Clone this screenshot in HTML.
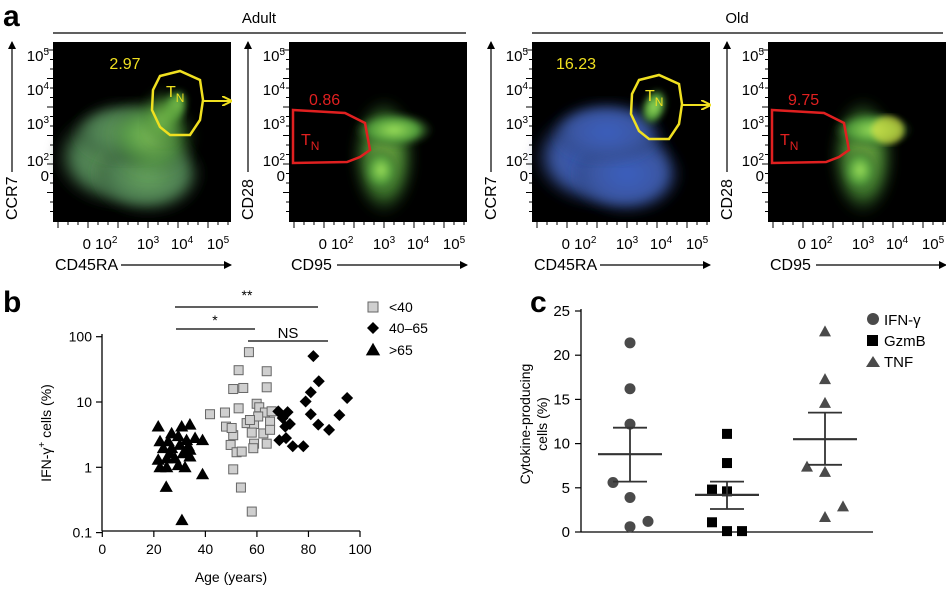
<!DOCTYPE html>
<html><head><meta charset="utf-8">
<style>
body{margin:0;background:#fff;width:946px;height:588px;overflow:hidden;font-family:"Liberation Sans",sans-serif;}
svg text{font-family:"Liberation Sans","DejaVu Sans",sans-serif;}
</style></head>
<body>
<svg id="fig" width="946" height="588" viewBox="0 0 946 588" xmlns="http://www.w3.org/2000/svg">
<defs>
<filter id="blur6"><feGaussianBlur stdDeviation="6"/></filter>
<filter id="blur3"><feGaussianBlur stdDeviation="3"/></filter>
<radialGradient id="gGreen"><stop offset="0" stop-color="#9be05a"/><stop offset="0.6" stop-color="#4f9a3a"/><stop offset="1" stop-color="#1d3a1a" stop-opacity="0"/></radialGradient>
<radialGradient id="gBlue"><stop offset="0" stop-color="#3a5fc0"/><stop offset="0.7" stop-color="#3a56a0"/><stop offset="1" stop-color="#1a2850" stop-opacity="0"/></radialGradient>
<radialGradient id="gGB"><stop offset="0" stop-color="#6aa860"/><stop offset="0.7" stop-color="#4a7a50"/><stop offset="1" stop-color="#1a2a1a" stop-opacity="0"/></radialGradient>
<marker id="arr" markerWidth="8" markerHeight="8" refX="7" refY="4" orient="auto" markerUnits="userSpaceOnUse"><path d="M0,0 L8,4 L0,8 z" fill="#000"/></marker>
<marker id="arrY" markerWidth="10" markerHeight="10" refX="8" refY="5" orient="auto" markerUnits="userSpaceOnUse"><path d="M0,0 L10,5 L0,10" fill="none" stroke="#f0e020" stroke-width="2"/></marker>
</defs>

<text x="3" y="26" font-size="30" font-weight="bold">a</text>
<text x="259" y="23" font-size="15" text-anchor="middle">Adult</text>
<line x1="53" y1="33" x2="466" y2="33" stroke="#000" stroke-width="1.2"/>
<text x="737" y="23" font-size="15" text-anchor="middle">Old</text>
<line x1="532" y1="33" x2="943" y2="33" stroke="#000" stroke-width="1.2"/>
<g id="flow"></g>

<text x="3" y="312" font-size="30" font-weight="bold">b</text>
<g id="pb"></g>
<text x="530" y="312" font-size="30" font-weight="bold">c</text>
<g id="pc"></g>
</svg>
<script>
// ---------- Panel b data ----------
const bTriAge=[21.7,26.9,30.8,34.0,36.0,38.9,22.4,25.6,29.5,32.7,23.7,26.9,30.1,33.4,21.7,25.0,28.2,34.0,22.4,25.0,29.5,32.1,38.9,24.8,30.9,26.3,31.4,34.0];
const bTriVal=[4.2,3.3,4.2,4.5,2.8,2.6,2.5,2.5,3.0,2.6,1.96,1.96,2.2,2.1,1.3,1.37,1.37,1.46,1.0,1.0,1.08,1.0,0.78,0.50,0.155,1.64,1.64,1.85];
const bSqAge=[56.9,52.9,63.8,50.8,54.7,63.8,41.8,47.6,52.9,59.9,60.9,63.1,65.7,48.0,50.8,50.2,56.0,58.9,58.0,62.5,65.1,65.1,49.8,52.1,54.1,58.9,58.6,63.8,50.8,53.8,58.0,60.5,57.3];
const bSqVal=[58,30.7,29.6,15.8,16.4,16.8,6.5,6.9,8.0,9.4,8.3,6.9,7.2,4.2,3.1,4.0,4.75,4.6,3.4,3.3,5.0,3.75,2.2,1.7,1.74,2.3,1.96,2.3,0.93,0.49,0.21,6.0,5.3];
const bDiaAge=[81.9,84.0,80.9,78.9,80.9,83.8,88.0,92.0,95.0,68.3,71.9,70.0,72.8,71.0,68.7,71.3,73.9,78.0];
const bDiaVal=[50.4,20.8,14.1,10.2,6.5,4.5,3.75,6.3,11.5,7.2,7.0,5.7,4.6,4.2,2.6,2.8,2.1,2.1];
const bXTicks=[0,20,40,60,80,100];
const bYTicks=[0.1,1,10,100];
const bYLabels=["0.1","1","10","100"];
// ---------- Panel c data ----------
const cGroups=["IFN-γ","GzmB","TNF"];
const cIFN=[21.4,16.2,12.2,5.6,3.9,0.6,1.2];
const cGzmB=[11.1,7.8,4.8,4.6,1.1,0.1,0.1];
const cTNF=[22.7,17.3,14.6,7.4,6.8,1.7,2.9];
const cMean=[8.8,4.2,10.5];
const cSemLo=[5.7,2.6,7.6];
const cSemHi=[11.8,5.7,13.5];
const cYTicks=[0,5,10,15,20,25];

const NS='http://www.w3.org/2000/svg';
function mk(parent,tag,attrs,text){const e=document.createElementNS(NS,tag);for(const k in attrs)e.setAttribute(k,attrs[k]);if(text!==undefined)e.textContent=text;parent.appendChild(e);return e;}

// ---- Panel b ----
(function(){
const g=document.getElementById('pb');
const x=a=>102.3+a*2.577;
const y=v=>467.3-Math.log10(v)*65.3;
let e;
e=mk(g,'line',{x1:102,y1:334,x2:102,y2:531,stroke:'#000','stroke-width':1.3});


e=mk(g,'line',{x1:102,y1:531,x2:360,y2:531,stroke:'#000','stroke-width':1.3});


bXTicks.forEach(t=>{mk(g,'line',{x1:x(t),y1:531,x2:x(t),y2:537,stroke:'#000','stroke-width':1.2});
 e=mk(g,'text',{x:x(t),y:554,'font-size':14,'text-anchor':'middle'},String(t));
 
 });
bYTicks.forEach((t,i)=>{mk(g,'line',{x1:96,y1:y(t),x2:102,y2:y(t),stroke:'#000','stroke-width':1.2});
 e=mk(g,'text',{x:92,y:y(t)+5,'font-size':14,'text-anchor':'end'},bYLabels[i]);
 
 });
e=mk(g,'text',{x:231,y:582,'font-size':14,'text-anchor':'middle'},'Age (years)');


e=mk(g,'text',{transform:'translate(51,433) rotate(-90)','font-size':14,'text-anchor':'middle'});
e.innerHTML='IFN-γ<tspan dy="-6" font-size="10">+</tspan><tspan dy="6"> cells (%)</tspan>';


[[175,318,307,'**',247,300],[176,255,329,'*',215,325],[248,328,341,'NS',288,338]].forEach(s=>{
 e=mk(g,'line',{x1:s[0],y1:s[2],x2:s[1],y2:s[2],stroke:'#000','stroke-width':1.2});
 
 
 e=mk(g,'text',{x:s[4],y:s[5],'font-size':s[3]=='NS'?15:14,'text-anchor':'middle'},s[3]);
 
 });
function tri(cx,cy,s){return `${cx},${cy-s*0.6} ${cx+s*0.6},${cy+s*0.45} ${cx-s*0.6},${cy+s*0.45}`;}
bTriAge.forEach((a,i)=>{e=mk(g,'polygon',{points:tri(x(a),y(bTriVal[i]),11),fill:'#000'});
 
 });
bSqAge.forEach((a,i)=>{const cx=x(a),cy=y(bSqVal[i]);e=mk(g,'rect',{x:cx-4.5,y:cy-4.5,width:9,height:9,fill:'#cfcfcf',stroke:'#666','stroke-width':1});
 
 });
bDiaAge.forEach((a,i)=>{const cx=x(a),cy=y(bDiaVal[i]);e=mk(g,'polygon',{points:`${cx},${cy-6} ${cx+6},${cy} ${cx},${cy+6} ${cx-6},${cy}`,fill:'#000'});
 
 });
e=mk(g,'rect',{x:368,y:302,width:10,height:10,fill:'#cfcfcf',stroke:'#666'});


e=mk(g,'text',{x:389,y:312,'font-size':14},'<40');


e=mk(g,'polygon',{points:'373,322 379,328 373,334 367,328',fill:'#000'});


e=mk(g,'text',{x:389,y:333,'font-size':14},'40–65');


e=mk(g,'polygon',{points:tri(373,350,12),fill:'#000'});


e=mk(g,'text',{x:389,y:355,'font-size':14},'>65');


})();

// ---- Panel c ----
(function(){
const g=document.getElementById('pc');
const y=v=>532-v*8.84;
const gx=[630,727,825];
let e;
e=mk(g,'line',{x1:581,y1:309,x2:581,y2:532,stroke:'#000','stroke-width':1.3});


e=mk(g,'line',{x1:581,y1:532,x2:873,y2:532,stroke:'#000','stroke-width':1.3});


cYTicks.forEach(t=>{mk(g,'line',{x1:575,y1:y(t),x2:581,y2:y(t),stroke:'#000','stroke-width':1.2});
 e=mk(g,'text',{x:570,y:y(t)+5,'font-size':15,'text-anchor':'end'},String(t));
 
 });
e=mk(g,'text',{transform:'translate(530,424) rotate(-90)','font-size':14,'text-anchor':'middle'},'Cytokine-producing');


e=mk(g,'text',{transform:'translate(547,424) rotate(-90)','font-size':14,'text-anchor':'middle'},'cells (%)');


const jit=[0,0,0,-17,0,0,18];
const jitG=[0,0,-15,0,-15,0,15];
const jitT=[0,0,0,-18,0,0,18];
cIFN.forEach((v,i)=>{e=mk(g,'circle',{cx:gx[0]+jit[i],cy:y(v),r:5.5,fill:'#4a4a4a'});
 
 });
cGzmB.forEach((v,i)=>{e=mk(g,'rect',{x:gx[1]+jitG[i]-5,y:y(v)-5,width:10,height:10,fill:'#000'});
 
 });
cTNF.forEach((v,i)=>{const cx=gx[2]+jitT[i],cy=y(v);e=mk(g,'polygon',{points:`${cx},${cy-6} ${cx+6},${cy+5} ${cx-6},${cy+5}`,fill:'#4a4a4a'});
 
 });
cMean.forEach((m,i)=>{const cx=gx[i];
 e=mk(g,'line',{x1:cx-32,y1:y(m),x2:cx+32,y2:y(m),stroke:'#333','stroke-width':2.2});
 
 
 e=mk(g,'line',{x1:cx,y1:y(cSemLo[i]),x2:cx,y2:y(cSemHi[i]),stroke:'#333','stroke-width':1.8});
 
 
 [cSemLo[i],cSemHi[i]].forEach(s=>{e=mk(g,'line',{x1:cx-17,y1:y(s),x2:cx+17,y2:y(s),stroke:'#333','stroke-width':1.8});
  
  });});
e=mk(g,'circle',{cx:873,cy:319,r:6,fill:'#4a4a4a'});


e=mk(g,'text',{x:884,y:325,'font-size':15},cGroups[0]);


e=mk(g,'rect',{x:867,y:335,width:11,height:11,fill:'#000'});


e=mk(g,'text',{x:884,y:346,'font-size':15},cGroups[1]);


e=mk(g,'polygon',{points:'873,356 880,367 866,367',fill:'#4a4a4a'});


e=mk(g,'text',{x:884,y:367,'font-size':15},cGroups[2]);


})();

// ---- Panel a flow plots ----
(function(){
const g=document.getElementById('flow');
const plots=[
 {x:53,xl:'CD45RA',yl:'CCR7',kind:'ccr',old:false,val:'2.97'},
 {x:289,xl:'CD95',yl:'CD28',kind:'cd28',old:false,val:'0.86'},
 {x:532,xl:'CD45RA',yl:'CCR7',kind:'ccr',old:true,val:'16.23'},
 {x:768,xl:'CD95',yl:'CD28',kind:'cd28',old:true,val:'9.75'}];
plots.forEach((p,pi)=>{
 const L=p.x,T=42,W=178,H=180;
 const pg=mk(g,'g',{});
 
 
 mk(pg,'rect',{x:L,y:T,width:W,height:H,fill:'#000'});
 if(p.kind==='ccr'){
  const grad=p.old?'url(#gBlue)':'url(#gGB)';
  mk(pg,'ellipse',{cx:L+70,cy:T+115,rx:70,ry:50,fill:grad,filter:'url(#blur6)'});
  mk(pg,'ellipse',{cx:L+95,cy:T+132,rx:55,ry:40,fill:grad,filter:'url(#blur6)'});
  mk(pg,'ellipse',{cx:L+75,cy:T+90,rx:55,ry:30,fill:grad,filter:'url(#blur6)'});
  mk(pg,'ellipse',{cx:L+122,cy:T+65,rx:13,ry:20,fill:'url(#gGreen)',filter:'url(#blur3)',transform:`rotate(20 ${L+122} ${T+65})`});
  if(!p.old){mk(pg,'ellipse',{cx:L+100,cy:T+95,rx:45,ry:40,fill:'url(#gGreen)',opacity:0.6,filter:'url(#blur6)'});
   mk(pg,'ellipse',{cx:L+110,cy:T+75,rx:20,ry:28,fill:'url(#gGreen)',opacity:0.7,filter:'url(#blur6)'});}
 } else {
  mk(pg,'ellipse',{cx:L+95,cy:T+115,rx:32,ry:60,fill:'url(#gGreen)',opacity:0.8,filter:'url(#blur6)'});
  mk(pg,'ellipse',{cx:L+105,cy:T+88,rx:40,ry:18,fill:'url(#gGreen)',filter:'url(#blur3)'});
  mk(pg,'ellipse',{cx:L+92,cy:T+128,rx:18,ry:22,fill:'url(#gGreen)',filter:'url(#blur3)'});
  if(p.old){mk(pg,'ellipse',{cx:L+120,cy:T+88,rx:16,ry:14,fill:'#e0e040',opacity:0.6,filter:'url(#blur3)'});}
 }
 const yt=[[13,'10<tspan dy="-6" font-size="10">5</tspan>'],[47,'10<tspan dy="-6" font-size="10">4</tspan>'],[81,'10<tspan dy="-6" font-size="10">3</tspan>'],[118,'10<tspan dy="-6" font-size="10">2</tspan>'],[133,'0']];
 yt.forEach(t=>{const e=mk(pg,'text',{x:L-4,y:T+t[0]+6,'font-size':15,'text-anchor':'end'});e.innerHTML=t[1];});
 const xt=[[47,'0 10<tspan dy="-6" font-size="10">2</tspan>'],[95,'10<tspan dy="-6" font-size="10">3</tspan>'],[129,'10<tspan dy="-6" font-size="10">4</tspan>'],[165,'10<tspan dy="-6" font-size="10">5</tspan>']];
 xt.forEach(t=>{const e=mk(pg,'text',{x:L+t[0],y:249,'font-size':15,'text-anchor':'middle'});e.innerHTML=t[1];});
 for(let i=0;i<18;i++){mk(pg,'line',{x1:L+5+i*10,y1:T+H,x2:L+5+i*10,y2:T+H+(i%3?3:6),stroke:'#000'});
  mk(pg,'line',{x1:L-(i%3?3:6),y1:T+8+i*9.5,x2:L,y2:T+8+i*9.5,stroke:'#000'});}
 let e=mk(pg,'text',{x:L+2,y:270,'font-size':16},p.xl);
 
 
 const tw=p.xl.length*10+8;
 mk(pg,'line',{x1:L+tw,y1:265,x2:L+W,y2:265,stroke:'#000','stroke-width':1.2,'marker-end':'url(#arr)'});
 e=mk(pg,'text',{transform:`translate(${L-36},${T+H-2}) rotate(-90)`,'font-size':16},p.yl);
 
 
 mk(pg,'line',{x1:L-41,y1:T+H-50,x2:L-41,y2:T,stroke:'#000','stroke-width':1.2,'marker-end':'url(#arr)'});
 if(p.kind==='ccr'){
  const dy=p.old?4:0;
  const pts=[[107,34],[127,29],[147,38],[150,58],[147,78],[137,93],[117,93],[107,85],[99,68],[100,48]].map(q=>`${L+q[0]},${T+q[1]+dy}`).join(' ');
  mk(pg,'polygon',{points:pts,fill:'none',stroke:'#f0e020','stroke-width':2.5});
  mk(pg,'line',{x1:L+150,y1:T+59+dy,x2:L+177,y2:T+59+dy,stroke:'#f0e020','stroke-width':2,'marker-end':'url(#arrY)'});
  e=mk(pg,'text',{x:L+(p.old?44:72),y:T+27,'font-size':16,fill:'#f0e020',"text-anchor":"middle"},p.val);
  
  
  e=mk(pg,'text',{x:L+113,y:T+55+dy,'font-size':16,fill:'#f0e020'});e.innerHTML='T<tspan dy="5" font-size="12">N</tspan>';
 } else {
  const pts=[[4,110],[56,113],[76,123],[81,150],[71,157],[58,162],[4,163]].map(q=>`${L+q[0]},${q[1]}`).join(' ');
  mk(pg,'polygon',{points:pts,fill:'none',stroke:'#e02020','stroke-width':2.5});
  e=mk(pg,'text',{x:L+20,y:T+63,'font-size':16,fill:'#e02020'},p.val);
  
  
  e=mk(pg,'text',{x:L+12,y:T+103,'font-size':16,fill:'#e02020'});e.innerHTML='T<tspan dy="5" font-size="12">N</tspan>';
 }
});
})();
</script>
</body></html>
